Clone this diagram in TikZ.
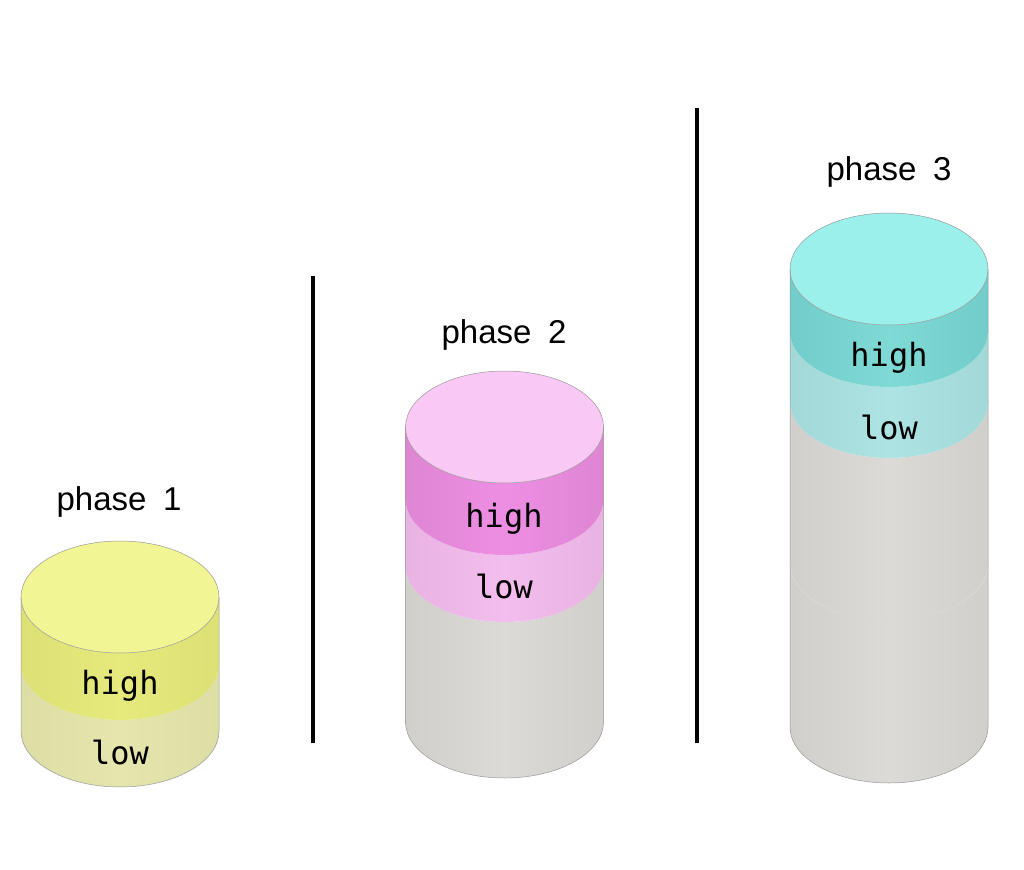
\documentclass[tikz,border=0pt]{standalone}
\usepackage{fontspec}
\setmainfont{Liberation Sans}
\newfontfamily\monof{DejaVu Sans Mono}
\definecolor{yTop}{HTML}{F1F593}
\definecolor{yHiE}{HTML}{DDE074}
\definecolor{yHiM}{HTML}{E6E97C}
\definecolor{yLoE}{HTML}{DCDEA4}
\definecolor{yLoM}{HTML}{E4E6AE}
\definecolor{pTop}{HTML}{F9C8F4}
\definecolor{pHiE}{HTML}{DE85D3}
\definecolor{pHiM}{HTML}{EE8EE3}
\definecolor{pLoE}{HTML}{E8B3E2}
\definecolor{pLoM}{HTML}{F3BDEE}
\definecolor{cTop}{HTML}{9CF0EC}
\definecolor{cHiE}{HTML}{72CCC9}
\definecolor{cHiM}{HTML}{7FDAD6}
\definecolor{cLoE}{HTML}{A2D8D8}
\definecolor{cLoM}{HTML}{AEE3E3}
\definecolor{gE}{HTML}{D0CFCB}
\definecolor{gM}{HTML}{DBDAD6}
\newcommand{\cylband}[5]{%
  \path[left color=#4, right color=#4, middle color=#5]
    (#1-99,-#2) -- (#1-99,-#3)
    arc[start angle=180,end angle=360,x radius=99,y radius=56]
    -- (#1+99,-#2)
    arc[start angle=0,end angle=-180,x radius=99,y radius=56] -- cycle;}
\newcommand{\cyltop}[3]{%
  \path[fill=#3] (#1,-#2) ellipse[x radius=99,y radius=56];}
\newcommand{\cyloutline}[3]{%
  \draw[outl] (#1-99,-#2) -- (#1-99,-#3)
    arc[start angle=180,end angle=360,x radius=99,y radius=56]
    -- (#1+99,-#2);
  \draw[outl] (#1,-#2) ellipse[x radius=99,y radius=56];}
\begin{document}
\begin{tikzpicture}[x=1pt,y=1pt,
  outl/.style={draw=black!40, line width=0.5pt},
  phaselbl/.style={font=\fontsize{33}{38}\selectfont, inner sep=0pt},
  bandlbl/.style={font=\monof\fontsize{32}{36}\selectfont, inner sep=0pt},
  sep/.style={line width=3.5pt, black}]
\useasboundingbox (0,0) rectangle (1024,-869);
\fill[white] (0,0) rectangle (1024,-869);

% cylinder 1 (yellow)
\cylband{120}{664}{731}{yLoE}{yLoM}
\cylband{120}{597}{664}{yHiE}{yHiM}
\cyltop{120}{597}{yTop}
\cyloutline{120}{597}{731}

% cylinder 2 (pink)
\cylband{504.5}{566}{722}{gE}{gM}
\cylband{504.5}{499}{566}{pLoE}{pLoM}
\cylband{504.5}{427}{499}{pHiE}{pHiM}
\cyltop{504.5}{427}{pTop}
\cyloutline{504.5}{427}{722}

% cylinder 3 (cyan)
\cylband{889}{402}{727}{gE}{gM}
\draw[draw=black!15, line width=0.8pt] (889-99,-564)
  arc[start angle=180,end angle=360,x radius=99,y radius=56];
\cylband{889}{331}{402}{cLoE}{cLoM}
\cylband{889}{269}{331}{cHiE}{cHiM}
\cyltop{889}{269}{cTop}
\cyloutline{889}{269}{727}

% labels
\node[phaselbl] (ph1) at (119,-502) {phase\hspace{0.5em}1};
\node[phaselbl] (ph2) at (504,-335) {phase\hspace{0.5em}2};
\node[phaselbl] (ph3) at (889,-172) {phase\hspace{0.5em}3};

\node[bandlbl] (hi1) at (120,-686) {high};
\node[bandlbl] (lo1) at (120,-752) {low};
\node[bandlbl] (hi2) at (504,-519) {high};
\node[bandlbl] (lo2) at (504,-586) {low};
\node[bandlbl] (hi3) at (889,-358) {high};
\node[bandlbl] (lo3) at (889,-427) {low};

% separators
\coordinate (s1a) at (313,-276);
\coordinate (s1b) at (313,-743);
\coordinate (s2a) at (697,-108);
\coordinate (s2b) at (697,-743);
\draw[sep] (s1a) -- (s1b);
\draw[sep] (s2a) -- (s2b);
\end{tikzpicture}
\end{document}
